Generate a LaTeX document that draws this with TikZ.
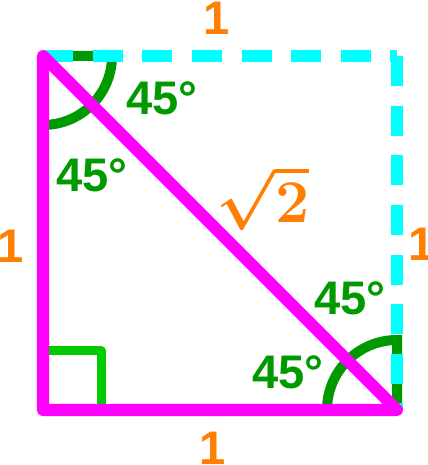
\documentclass[tikz,border=0pt]{standalone}
\usepackage[no-math]{fontspec}
\newfontfamily\labelfont{Liberation Sans}
\usepackage{tikz}
\definecolor{sidemagenta}{RGB}{255,0,255}
\definecolor{squarecyan}{RGB}{0,255,255}
\definecolor{anglegreen}{RGB}{0,153,0}
\definecolor{rightgreen}{RGB}{0,204,0}
\definecolor{lengthorange}{RGB}{255,128,0}
\newcommand{\hypfont}{\fontsize{16pt}{19pt}\selectfont}
\newcommand{\hyptext}{{\boldmath$\sqrt{2}$}}
\newcommand{\labelsize}{\labelfont\bfseries\fontsize{13.4pt}{16pt}\selectfont}
\tikzstyle{side} = [draw=sidemagenta, line width=0.12cm, line cap=round, line join=round]
\tikzstyle{square} = [draw=squarecyan, line width=0.12cm, dash pattern=on 0.3cm off 0.196cm]
\tikzstyle{anglemark} = [draw=anglegreen, line width=0.1cm]
\tikzstyle{rightmark} = [draw=rightgreen, line width=0.09cm, line join=round]
\tikzstyle{anglelabel} = [inner sep=0pt, text=anglegreen, font=\labelsize]
\tikzstyle{sidelabel} = [inner sep=0pt, text=lengthorange, font=\labelsize]
\tikzstyle{hyplabel} = [inner sep=0pt, text=lengthorange, font=\hypfont]

\begin{document}
\begin{tikzpicture}[x=0.01cm, y=0.01cm]
	\useasboundingbox (0,0) rectangle (427,465);

	% corners
	\coordinate (A) at (43, 409);
	\coordinate (B) at (43, 55);
	\coordinate (C) at (397, 55);
	\coordinate (D) at (397, 409);
	\coordinate (R1) at (43, 114);
	\coordinate (R2) at (101, 114);
	\coordinate (R3) at (101, 55);

	% angle marks
	\draw [anglemark] (A) -- ++(69,0) arc (0:-90:69);
	\draw [anglemark] (C) -- ++(0,70) arc (90:180:70);
	\draw [rightmark] (R1) -- (R2) -- (R3);

	% square
	\draw [square] (A) -- (D);
	\draw [square] (D) -- (C);

	% triangle
	\draw [side] (B) -- (A) -- (C) -- cycle;

	% labels
	\node[hyplabel] (hyp) at (263, 267) {\hyptext};
	\node[anglelabel] (topangle) at (162, 367) {45°};
	\node[anglelabel] (leftangle) at (92, 290) {45°};
	\node[anglelabel] (rightangle) at (350, 167) {45°};
	\node[anglelabel] (bottomangle) at (288, 93) {45°};
	\node[sidelabel] (topside) at (217, 447) {1};
	\node[sidelabel] (leftside) at (11, 219) {1};
	\node[sidelabel] (rightside) at (422, 221) {1};
	\node[sidelabel] (bottomside) at (213, 17) {1};
\end{tikzpicture}
\end{document}
